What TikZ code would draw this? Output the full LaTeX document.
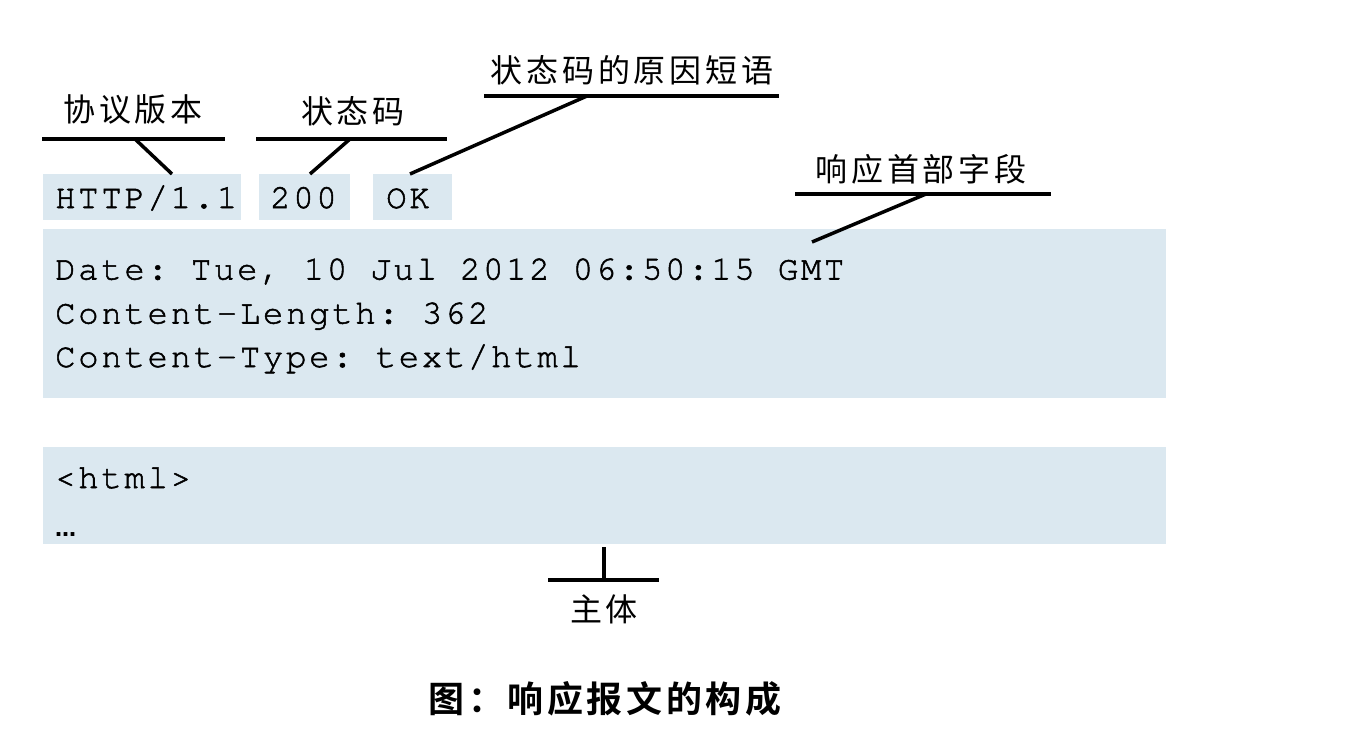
\documentclass[tikz,border=0pt]{standalone}
\usepackage{fontspec}
\setmonofont{texgyrecursor}[Extension=.otf, UprightFont=*-regular, LetterSpace=7.9, FakeBold=1.5]
\newfontfamily\cjk{Noto Sans CJK SC}[LetterSpace=12,BoldFont={Noto Sans CJK SC Bold}]
\newfontfamily\ellfont{DejaVu Sans}
\definecolor{boxblue}{RGB}{219,232,240}
\tikzset{
  box/.style={fill=boxblue, draw=none, inner sep=0pt, anchor=north west},
  mono/.style={anchor=base west, inner sep=0pt, font=\ttfamily\fontsize{34}{40}\selectfont},
  lbl/.style={anchor=center, inner sep=0pt, font=\cjk\fontsize{32}{36}\selectfont},
  captionstyle/.style={anchor=center, inner sep=0pt, font=\cjk\bfseries\fontsize{36}{40}\selectfont\addfontfeature{LetterSpace=10}},
  rule/.style={draw=black, line width=3.5pt},
}
\begin{document}
\begin{tikzpicture}[x=1pt, y=-1pt]
\useasboundingbox (0,0) rectangle (1359,746);
% boxes
\node[box, minimum width=198pt, minimum height=46pt] (httpbox) at (43,174) {};
\node[box, minimum width=91pt, minimum height=46pt] (codebox) at (259,174) {};
\node[box, minimum width=79pt, minimum height=46pt] (okbox) at (373,174) {};
\node[box, minimum width=1123pt, minimum height=169pt] (hdrbox) at (43,229) {};
\node[box, minimum width=1123pt, minimum height=97pt] (bodybox) at (43,447) {};
% texts
\node[mono] (http) at (55,208) {HTTP/1.1};
\node[mono] (code) at (270,208) {200};
\node[mono] (ok) at (386,208) {OK};
\node[mono] (date) at (55,279.5) {Date: Tue, 10 Jul 2012 06:50:15 GMT};
\node[mono] (clen) at (55,323.5) {Content-Length: 362};
\node[mono] (ctype) at (55,367) {Content-Type: text/html};
\node[mono] (html) at (55,488) {<html>};
\node[anchor=base west, inner sep=0pt, font=\ellfont\bfseries\fontsize{21}{24}\selectfont] (dots) at (55,536) {…};
% labels
\node[lbl] (lver) at (133,109) {协议版本};
\node[lbl] (lcode) at (353,111) {状态码};
\node[lbl] (lreason) at (632,70.5) {状态码的原因短语};
\node[lbl] (lhdr) at (921,169.5) {响应首部字段};
\node[lbl] (lbody) at (604,609) {主体};
\node[captionstyle] (caption) at (605,699) {图：响应报文的构成};
% underline coordinates
\coordinate (v1) at (42,139); \coordinate (v2) at (225,139); \coordinate (vm) at (135,139);
\coordinate (vt) at (172,174);
\coordinate (c1) at (256,139); \coordinate (c2) at (447,139); \coordinate (cm) at (350,139);
\coordinate (ct) at (310,174);
\coordinate (r1) at (484,96); \coordinate (r2) at (779,96); \coordinate (rm) at (587,96);
\coordinate (rt) at (410,174);
\coordinate (h1) at (795,194); \coordinate (h2) at (1051,194); \coordinate (hm) at (926,194);
\coordinate (ht) at (812,242);
\coordinate (b1) at (548,580); \coordinate (b2) at (659,580); \coordinate (bm) at (604,580);
\coordinate (bt) at (604,547);
% connectors
\draw[rule] (v1) -- (v2);
\draw[rule] (vm) -- (vt);
\draw[rule] (c1) -- (c2);
\draw[rule] (cm) -- (ct);
\draw[rule] (r1) -- (r2);
\draw[rule] (rm) -- (rt);
\draw[rule] (h1) -- (h2);
\draw[rule] (hm) -- (ht);
\draw[rule] (b1) -- (b2);
\draw[rule] (bm) -- (bt);
\end{tikzpicture}
\end{document}
